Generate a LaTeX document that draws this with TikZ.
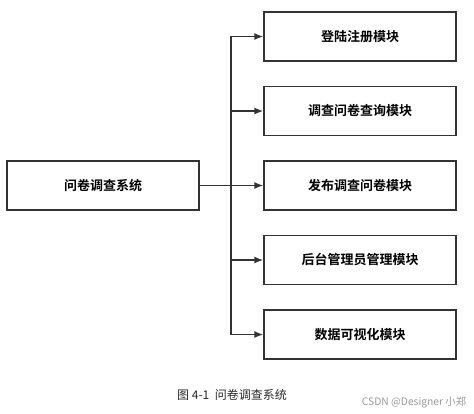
\documentclass[tikz,border=0pt]{standalone}
\usepackage{fontspec}
\newfontfamily\cjk{Noto Sans CJK SC}[BoldFont={Noto Sans CJK SC Bold}]
\usepackage{tikz}
\usetikzlibrary{arrows.meta, positioning}

\begin{document}
\begin{tikzpicture}[x=1pt, y=-1pt,
    box/.style={draw=black!80, line width=1.4pt, minimum width=192pt, minimum height=49pt, inner sep=0pt, font=\cjk\bfseries\fontsize{13}{15}\selectfont},
    arr/.style={draw=black!80, line width=1.4pt, -{Latex[length=9pt, width=7pt]}}]
    \useasboundingbox (0,0) rectangle (474,413);

    % Root box (the whole system)
    \node[box] (sys) at (103,185.5) {问卷调查系统};

    % The five modules on the right
    \node[box] (m1) at (360,36.5) {登陆注册模块};
    \node[box] (m2) at (360,111) {调查问卷查询模块};
    \node[box] (m3) at (360,185.5) {发布调查问卷模块};
    \node[box] (m4) at (360,260) {后台管理员管理模块};
    \node[box] (m5) at (360,334.5) {数据可视化模块};

    % Trunk line and branches
    \coordinate (trunk) at (231,0);
    \foreach \i in {1,...,5}
        \draw[arr] (sys.east) -- (sys.east -| trunk) |- (m\i.west);

    % Caption and watermark
    \node[font=\cjk\fontsize{12}{14}\selectfont, text=black!85] (cap) at (232,395) {图 4-1\ \ 问卷调查系统};
    \node[font=\cjk\fontsize{10.3}{12}\selectfont, text=black!40] (mark) at (414,402) {CSDN @Designer 小郑};
\end{tikzpicture}
\end{document}
